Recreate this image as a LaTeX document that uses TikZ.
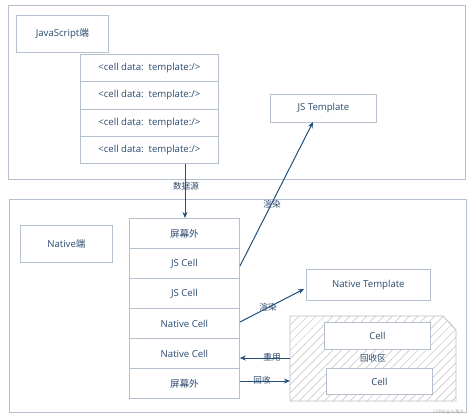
\documentclass[tikz,border=0pt]{standalone}
\usepackage{fontspec}
\setmainfont{Open Sans}
\newfontfamily\cjk{Noto Sans CJK SC}
\usetikzlibrary{patterns.meta,arrows.meta}
\definecolor{txt}{HTML}{2B4A6E}
\definecolor{bord}{HTML}{B4C0CC}
\definecolor{arr}{HTML}{23507A}
\tikzset{
  box/.style={draw=bord, line width=0.8pt, fill=white, text=txt, font=\fontsize{9.6}{11}\selectfont, inner sep=0pt},
  area/.style={draw=bord, line width=1pt},
  conn/.style={draw=arr, line width=1pt, -{Stealth[length=6pt,width=5pt]}},
  lbl/.style={text=txt, font=\cjk\fontsize{8.6}{10}\selectfont, inner sep=1pt}
}
\begin{document}
\begin{tikzpicture}[x=1pt,y=-1pt]
\useasboundingbox (0,0) rectangle (474,420);
% outer areas
\node[area, minimum width=457pt, minimum height=174pt, anchor=north west] (jsarea) at (8,5) {};
\node[area, minimum width=457pt, minimum height=213pt, anchor=north west] (narea) at (9,199) {};
% JS side
\node[box, minimum width=92pt, minimum height=37pt, anchor=north west] (jsend) at (16,15) {JavaScript{\cjk 端}};
\foreach \i in {0,...,3}{
  \node[box, minimum width=138pt, minimum height=27.25pt, anchor=north west] (c\i) at (80,54+27.25*\i) {<cell data:\ \ template:/>};
}
\node[box, minimum width=106pt, minimum height=28pt, anchor=north west] (jst) at (270,94) {JS Template};
% Native side
\node[box, minimum width=92pt, minimum height=37pt, anchor=north west] (nend) at (20,225) {Native{\cjk 端}};
\node[box, minimum width=110pt, minimum height=30pt, anchor=north west] (n0) at (129,218) {\cjk 屏幕外};
\node[box, minimum width=110pt, minimum height=30pt, anchor=north west] (n1) at (129,248) {JS Cell};
\node[box, minimum width=110pt, minimum height=30pt, anchor=north west] (n2) at (129,278) {JS Cell};
\node[box, minimum width=110pt, minimum height=30pt, anchor=north west] (n3) at (129,308) {Native Cell};
\node[box, minimum width=110pt, minimum height=30pt, anchor=north west] (n4) at (129,338) {Native Cell};
\node[box, minimum width=110pt, minimum height=30pt, anchor=north west] (n5) at (129,368) {\cjk 屏幕外};
\node[box, minimum width=124pt, minimum height=31pt, anchor=north west] (nt) at (306,269) {Native Template};
% recycle area
\filldraw[draw=bord, line width=0.8pt, fill=white,
  pattern={Lines[angle=45,distance=6pt,line width=0.5pt]}, pattern color=black!25]
  (290,316) -- (443,316) -- (456,330) -- (456,401) -- (290,401) -- cycle;
\coordinate (recl) at (290,358);
\coordinate (recl2) at (290,381);
\node[box, minimum width=106pt, minimum height=27pt, anchor=north west] (cell1) at (324,322) {Cell};
\node[box, minimum width=106pt, minimum height=26pt, anchor=north west] (cell2) at (326,368) {Cell};
\node[lbl] (rec) at (373,358) {回收区};
% connectors
\draw[conn] (c3.south -| 185,0) -- (n0.north -| 185,0);
\node[lbl] (dsrc) at (186,186) {数据源};
\coordinate (jsfrom) at (240,266);
\draw[conn] (jsfrom) -- (313,122);
\node[lbl] (r1) at (272,204) {渲染};
\coordinate (nfrom) at (240,322);
\draw[conn] (nfrom) -- (304,289);
\node[lbl] (r2) at (268,307) {渲染};
\draw[conn] (recl) -- (n4.east |- recl);
\node[lbl] (reuse) at (272,357) {重用};
\draw[conn] (n5.east |- recl2) -- (recl2);
\node[lbl] (recy) at (262,380) {回收};
% watermark
\node[text=black!35, font=\cjk\fontsize{4.5}{5}\selectfont, anchor=east, inner sep=0pt] (wm) at (464,412) {CSDN @火海夕};
\end{tikzpicture}
\end{document}
